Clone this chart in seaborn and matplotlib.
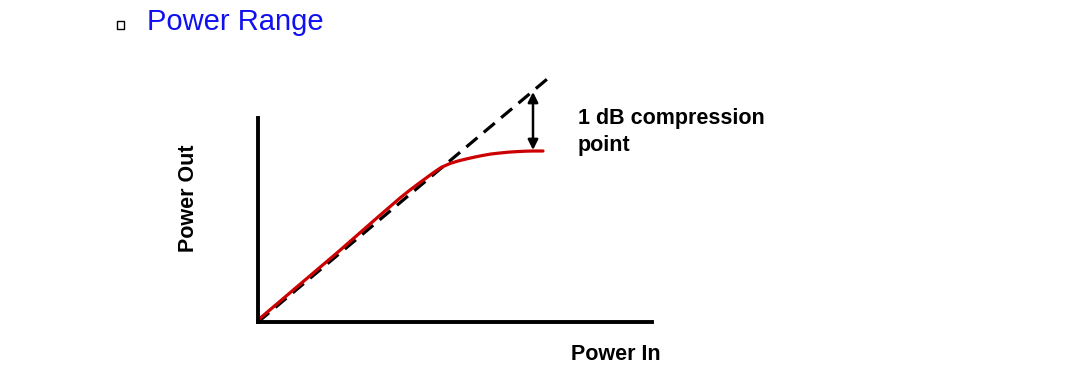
import matplotlib
matplotlib.use("Agg")
import matplotlib.pyplot as plt
import matplotlib.patches as mpatches
import seaborn as sns
import pandas as pd

# ---- data (pixel-like units, origin at axes corner) ----
ideal_in = [0, 294]
ideal_out = [0, 247]

actual_in = [0, 40, 80, 120, 142, 152, 162, 175, 183, 192, 200, 209, 217,
             225, 233, 242, 250, 259, 267, 275, 285]
actual_out = [2, 36, 70, 105, 124, 132, 139.5, 149, 154.5, 158.5, 161,
              163.2, 165, 166.6, 168, 169, 169.8, 170.4, 170.8, 171, 171]

arrow_x = 275
arrow_top = 230
arrow_bottom = 172

title = "Power Range"
x_label = "Power In"
y_label = "Power Out"
note = "1 dB compression\npoint"

sns.set_theme(style="white")
plt.rcParams["font.family"] = ["Liberation Sans", "DejaVu Sans"]

fig = plt.figure(figsize=(10.73, 3.73), dpi=100)
W, H = 1073, 373
ox, oy = 258, 322
aw, ah = 400, 270
ax = fig.add_axes([ox / W, (H - oy) / H, aw / W, ah / H])
ax.set_xlim(0, aw)
ax.set_ylim(0, ah)
ax.patch.set_alpha(0)

ideal = pd.DataFrame({"Power In": ideal_in, "Power Out": ideal_out})
actual = pd.DataFrame({"Power In": actual_in, "Power Out": actual_out})

sns.lineplot(data=ideal, x="Power In", y="Power Out", ax=ax, color="black",
             linewidth=2.3, linestyle=(0, (4.5, 2.6)), clip_on=False)
sns.lineplot(data=actual, x="Power In", y="Power Out", ax=ax, color="#cc0000",
             linewidth=2.3, clip_on=False, solid_joinstyle="round",
             solid_capstyle="round")

ax.annotate("", xy=(arrow_x, arrow_bottom), xytext=(arrow_x, arrow_top),
            arrowprops=dict(arrowstyle="<|-|>", color="black", lw=1.8,
                            mutation_scale=15, shrinkA=0, shrinkB=0))

ax.text(320, 171, note, fontsize=15.5, fontweight="bold", ha="left",
        va="baseline", linespacing=1.4, color="black")

for s in ["top", "right"]:
    ax.spines[s].set_visible(False)
for s in ["left", "bottom"]:
    ax.spines[s].set_visible(True)
    ax.spines[s].set_color("black")
    ax.spines[s].set_linewidth(2.8)
ax.spines["left"].set_bounds(0, 204)
ax.spines["bottom"].set_bounds(0, 394)
ax.set_xticks([])
ax.set_yticks([])

ax.set_xlabel(x_label, fontsize=15.5, fontweight="bold", color="black",
              ha="center", va="top")
ax.xaxis.set_label_coords((615.5 - ox) / aw, (oy - 344) / ah)
ax.set_ylabel(y_label, fontsize=15.5, fontweight="bold", color="black",
              ha="center", va="center")
ax.yaxis.set_label_coords((189 - ox) / aw, (oy - 198) / ah)

fig.text(147 / W, 1 - 30 / H, title, fontsize=21, color="#1010f0",
         ha="left", va="baseline")
fig.patches.append(mpatches.Rectangle((117 / W, 1 - 29 / H), 7 / W, 8 / H,
                                      transform=fig.transFigure,
                                      facecolor="white", edgecolor="black",
                                      linewidth=1.0))

fig.savefig("out.png", dpi=100)
